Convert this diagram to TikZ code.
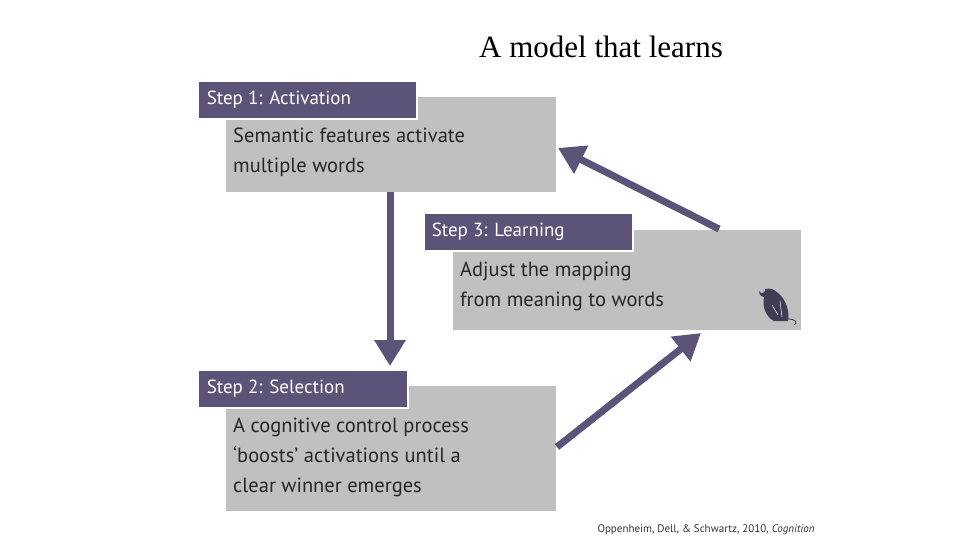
\documentclass[tikz,border=0pt]{standalone}
\usepackage{fontspec}
\setmainfont{PT Sans}
\newfontfamily\titlefont{Liberation Serif}
\usetikzlibrary{arrows.meta}
\definecolor{purp}{HTML}{5C5478}
\definecolor{boxg}{HTML}{C0C0C0}
\begin{document}
\begin{tikzpicture}[x=1pt,y=-1pt,
  box/.style={fill=boxg,draw=none},
  lab/.style={fill=purp,draw=white,line width=1.5pt,text=white,font=\fontsize{19}{22}\selectfont,anchor=west,inner sep=0pt},
  body/.style={anchor=north west,align=left,font=\fontsize{20.5}{30}\selectfont,text=black!85,inner sep=0pt},
  arr/.style={draw=purp,line width=7pt,-{Triangle[length=26pt,width=30pt]}}]
\useasboundingbox (0,0) rectangle (976,549);
\node[font=\titlefont\fontsize{31}{34}\selectfont] (title) at (601,47) {A model that learns};
% boxes
\fill[box] (226,97) rectangle (556,192);
\fill[box] (453,230) rectangle (801,330);
\fill[box] (226,386) rectangle (556,511);
\coordinate (b1s) at (390,192);
\coordinate (b2n) at (390,366);
\coordinate (b2e) at (557,447);
\coordinate (b3w) at (701,333);
\coordinate (b3n) at (719,229);
\coordinate (b1e) at (558,148);
\node[body] (t1) at (233,128) {Semantic features activate\\multiple words};
\node[body] (t3) at (460,262) {Adjust the mapping\\from meaning to words};
\node[body] (t2) at (233,418) {A cognitive control process\\‘boosts’ activations until a\\clear winner emerges};
\path[draw=white,fill=purp,line width=1.5pt] (198,81) rectangle (417,119);
\path[draw=white,fill=purp,line width=1.5pt] (424,213) rectangle (633,251);
\path[draw=white,fill=purp,line width=1.5pt] (198,370) rectangle (408,408);
\node[lab,draw=none,fill=none] (l1) at (206,100) {Step 1: Activation};
\node[lab,draw=none,fill=none] (l3) at (431,232) {Step 3: Learning};
\node[lab,draw=none,fill=none] (l2) at (206,389) {Step 2: Selection};
\draw[arr] (b1s) -- (b2n);
\draw[arr] (b2e) -- (b3w);
\draw[arr] (b3n) -- (b1e);
% mouse
\begin{scope}[shift={(778,305)}]
\fill[purp!70!black] (-12,-16) .. controls (-20,-18) and (-22,-10) .. (-14,-8)
  .. controls (-16,2) and (-12,12) .. (-4,16) -- (10,16)
  .. controls (12,8) and (8,-6) .. (0,-12) .. controls (-4,-16) and (-8,-17) .. (-12,-16) -- cycle;
\fill[purp!40] (-16,-15) circle (3);
\draw[purp!60!black,line width=0.8pt] (10,14) .. controls (18,14) and (20,18) .. (16,20);
\draw[white,line width=0.5pt] (-6,0) -- (0,10) (2,-4) -- (4,12);
\end{scope}
\node[font=\fontsize{11}{13}\selectfont,text=black!80] (cite) at (706,530) {Oppenheim, Dell, \& Schwartz, 2010, \textit{Cognition}};
\end{tikzpicture}
\end{document}
